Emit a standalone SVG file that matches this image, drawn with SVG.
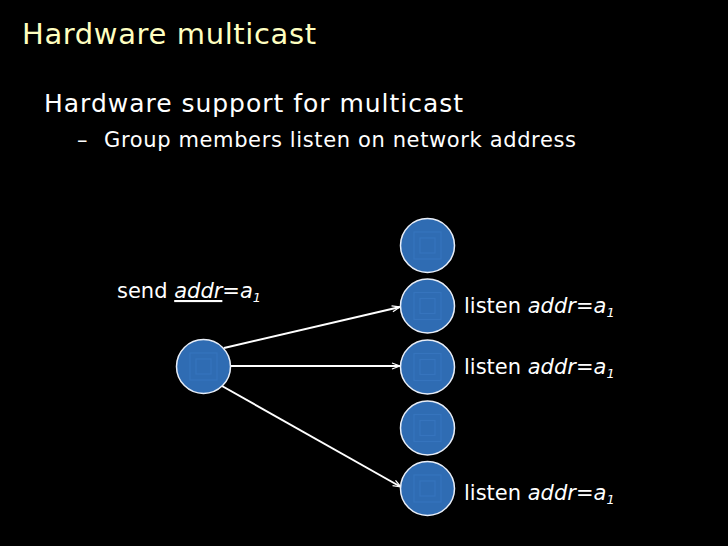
<svg xmlns="http://www.w3.org/2000/svg" width="728" height="546" viewBox="0 0 728 546">
<defs>
<style>
.t{font-family:"DejaVu Sans","Liberation Sans",sans-serif;fill:#ffffff}
.i{font-style:italic}
.node circle{fill:#2f6cb3;stroke:#e8eef8;stroke-width:1.5}
.node rect{fill:none;stroke:#3674bd;stroke-width:1.2}
.edge{stroke:#ffffff;stroke-width:2;fill:none;marker-end:url(#ah)}
</style>
<marker id="ah" markerWidth="10" markerHeight="8" refX="9" refY="4" orient="auto" markerUnits="userSpaceOnUse">
<path d="M1,1 L9,4 L1,7" fill="none" stroke="#ffffff" stroke-width="1.2"/>
</marker>
</defs>
<rect width="728" height="546" fill="#000000"/>
<text x="22" y="44" class="t" style="fill:#ffffc0" font-size="29" textLength="294">Hardware multicast</text>
<text x="44" y="112" class="t" font-size="25" textLength="419">Hardware support for multicast</text>
<text x="77" y="147" class="t" font-size="21">–</text>
<text x="104" y="147" class="t" font-size="21" textLength="472">Group members listen on network address</text>
<g id="connectors">
<line class="edge" x1="224" y1="348" x2="400" y2="307"/>
<line class="edge" x1="231" y1="366" x2="400" y2="366"/>
<line class="edge" x1="222" y1="386" x2="401" y2="487"/>
</g>
<g id="sender" class="node">
<circle cx="203.5" cy="366.5" r="27"/>
<rect x="190" y="353" width="27" height="27"/><rect x="196" y="359" width="15" height="15"/>
</g>
<g id="m1" class="node"><circle cx="427.5" cy="245.5" r="27"/><rect x="414" y="232" width="27" height="27"/><rect x="420" y="238" width="15" height="15"/></g>
<g id="m2" class="node"><circle cx="427.5" cy="306" r="27"/><rect x="414" y="292.5" width="27" height="27"/><rect x="420" y="298.5" width="15" height="15"/></g>
<g id="m3" class="node"><circle cx="427.5" cy="367" r="27"/><rect x="414" y="353.5" width="27" height="27"/><rect x="420" y="359.5" width="15" height="15"/></g>
<g id="m4" class="node"><circle cx="427.5" cy="428" r="27"/><rect x="414" y="414.5" width="27" height="27"/><rect x="420" y="420.5" width="15" height="15"/></g>
<g id="m5" class="node"><circle cx="427.5" cy="488.5" r="27"/><rect x="414" y="475" width="27" height="27"/><rect x="420" y="481" width="15" height="15"/></g>
<text x="117" y="298" class="t" font-size="21">send <tspan class="i" text-decoration="underline">addr</tspan><tspan class="i">=a</tspan><tspan class="i" font-size="13" dy="4">1</tspan></text>
<text x="464" y="313" class="t" font-size="21">listen <tspan class="i">addr=a</tspan><tspan class="i" font-size="13" dy="4">1</tspan></text>
<text x="464" y="374" class="t" font-size="21">listen <tspan class="i">addr=a</tspan><tspan class="i" font-size="13" dy="4">1</tspan></text>
<text x="464" y="500" class="t" font-size="21">listen <tspan class="i">addr=a</tspan><tspan class="i" font-size="13" dy="4">1</tspan></text>
</svg>
